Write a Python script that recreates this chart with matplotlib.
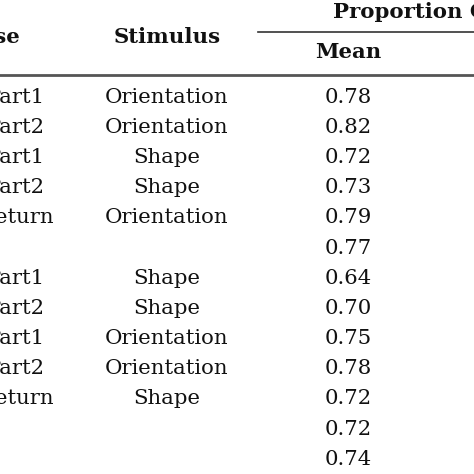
import matplotlib.pyplot as plt

phase = ["Part1", "Part2", "Part1", "Part2", "Return", "",
         "Part1", "Part2", "Part1", "Part2", "Return", "", ""]
stimulus = ["Orientation", "Orientation", "Shape", "Shape", "Orientation", "",
            "Shape", "Shape", "Orientation", "Orientation", "Shape", "", ""]
mean = ["0.78", "0.82", "0.72", "0.73", "0.79", "0.77",
        "0.64", "0.70", "0.75", "0.78", "0.72", "0.72", "0.74"]

W = H = 474
fig = plt.figure(figsize=(4.74, 4.74), dpi=100)
ax = fig.add_axes([0, 0, 1, 1])
ax.set_xlim(0, W)
ax.set_ylim(H, 0)
ax.axis("off")

font = dict(family="DejaVu Serif", fontsize=15.3, va="center", color="#111111")
bold = dict(font, fontweight="bold")

ax.text(333, 12, "Proportion Correct", ha="left", **bold)
ax.plot([258, 480], [32, 32], color="#333333", lw=1.2)
ax.text(20, 37, "Phase", ha="right", **bold)
ax.text(167, 37, "Stimulus", ha="center", **bold)
ax.text(348, 52, "Mean", ha="center", **bold)
ax.plot([-5, 480], [75, 75], color="#555555", lw=2)

for i in range(len(mean)):
    y = 97 + i * 30.2
    if phase[i]:
        x_end = 55 if phase[i] == "Return" else 45
        ax.text(x_end, y, phase[i], ha="right", **font)
    if stimulus[i]:
        ax.text(167, y, stimulus[i], ha="center", **font)
    ax.text(348, y, mean[i], ha="center", **font)

fig.savefig("out.png", dpi=100)
